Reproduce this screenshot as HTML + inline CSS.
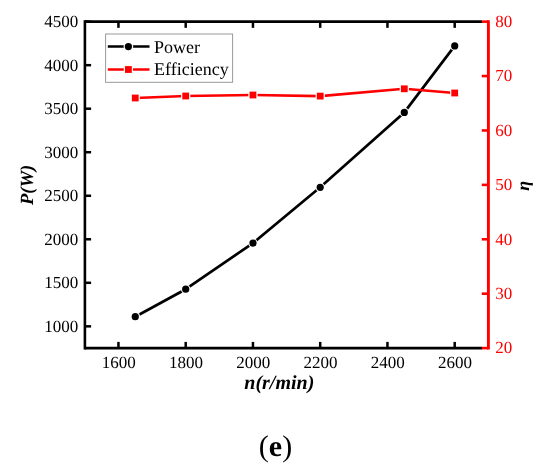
<!DOCTYPE html><html><head><meta charset="utf-8"><style>html,body{margin:0;padding:0;background:#fff;}svg{display:block;text-rendering:geometricPrecision;}</style></head><body>
<svg width="550" height="472" viewBox="0 0 550 472">
<rect width="550" height="472" fill="#fff"/>
<g stroke="#000" stroke-width="2.6" fill="none" stroke-linecap="square">
<line x1="84.9" y1="21.65" x2="84.9" y2="348.1"/>
<line x1="84.9" y1="21.65" x2="482" y2="21.65" stroke-linecap="butt"/>
<line x1="84.9" y1="348.1" x2="482" y2="348.1" stroke-linecap="butt"/>
</g>
<g stroke="#000" stroke-width="2.5" fill="none">
<line x1="84.9" y1="326.34" x2="91.10" y2="326.34"/>
<line x1="84.9" y1="282.81" x2="91.10" y2="282.81"/>
<line x1="84.9" y1="239.28" x2="91.10" y2="239.28"/>
<line x1="84.9" y1="195.76" x2="91.10" y2="195.76"/>
<line x1="84.9" y1="152.23" x2="91.10" y2="152.23"/>
<line x1="84.9" y1="108.70" x2="91.10" y2="108.70"/>
<line x1="84.9" y1="65.18" x2="91.10" y2="65.18"/>
<line x1="84.9" y1="21.65" x2="91.10" y2="21.65"/>
<line x1="118.45" y1="348.1" x2="118.45" y2="341.90"/>
<line x1="118.45" y1="21.65" x2="118.45" y2="27.85"/>
<line x1="185.70" y1="348.1" x2="185.70" y2="341.90"/>
<line x1="185.70" y1="21.65" x2="185.70" y2="27.85"/>
<line x1="252.95" y1="348.1" x2="252.95" y2="341.90"/>
<line x1="252.95" y1="21.65" x2="252.95" y2="27.85"/>
<line x1="320.20" y1="348.1" x2="320.20" y2="341.90"/>
<line x1="320.20" y1="21.65" x2="320.20" y2="27.85"/>
<line x1="387.45" y1="348.1" x2="387.45" y2="341.90"/>
<line x1="387.45" y1="21.65" x2="387.45" y2="27.85"/>
<line x1="454.70" y1="348.1" x2="454.70" y2="341.90"/>
<line x1="454.70" y1="21.65" x2="454.70" y2="27.85"/>
</g>
<g stroke="#f00" stroke-width="2.6" fill="none">
<line x1="488.4" y1="20.349999999999998" x2="488.4" y2="349.40000000000003" stroke-width="2.9"/>
<line x1="488.4" y1="348.10" x2="481.75" y2="348.10"/>
<line x1="488.4" y1="293.69" x2="481.75" y2="293.69"/>
<line x1="488.4" y1="239.28" x2="481.75" y2="239.28"/>
<line x1="488.4" y1="184.88" x2="481.75" y2="184.88"/>
<line x1="488.4" y1="130.47" x2="481.75" y2="130.47"/>
<line x1="488.4" y1="76.06" x2="481.75" y2="76.06"/>
<line x1="488.4" y1="21.65" x2="481.75" y2="21.65"/>
</g>
<g font-family='"Liberation Serif", "Times New Roman", serif' font-size="17" fill="#000">
<text x="78.3" y="331.94" text-anchor="end">1000</text>
<text x="78.3" y="288.41" text-anchor="end">1500</text>
<text x="78.3" y="244.88" text-anchor="end">2000</text>
<text x="78.3" y="201.36" text-anchor="end">2500</text>
<text x="78.3" y="157.83" text-anchor="end">3000</text>
<text x="78.3" y="114.30" text-anchor="end">3500</text>
<text x="78.3" y="70.78" text-anchor="end">4000</text>
<text x="78.3" y="27.25" text-anchor="end">4500</text>
<text x="118.85" y="368.2" text-anchor="middle">1600</text>
<text x="186.10" y="368.2" text-anchor="middle">1800</text>
<text x="253.35" y="368.2" text-anchor="middle">2000</text>
<text x="320.60" y="368.2" text-anchor="middle">2200</text>
<text x="387.85" y="368.2" text-anchor="middle">2400</text>
<text x="455.10" y="368.2" text-anchor="middle">2600</text>
</g>
<g font-family='"Liberation Serif", "Times New Roman", serif' font-size="17" fill="#f00">
<text x="495.2" y="353.40">20</text>
<text x="495.2" y="298.99">30</text>
<text x="495.2" y="244.58">40</text>
<text x="495.2" y="190.18">50</text>
<text x="495.2" y="135.77">60</text>
<text x="495.2" y="81.36">70</text>
<text x="495.2" y="26.95">80</text>
</g>
<text x="279.3" y="389.2" text-anchor="middle" font-family='"Liberation Serif", "Times New Roman", serif' font-size="20" font-weight="bold" font-style="italic">n(r/min)</text>
<text transform="translate(32.8,184.88) rotate(-90)" text-anchor="middle" font-family='"Liberation Serif", "Times New Roman", serif' font-size="18.6" font-weight="bold" font-style="italic">P(W)</text>
<text transform="translate(529.1,185.88) rotate(-90)" text-anchor="middle" font-family='"Liberation Serif", "Times New Roman", serif' font-size="18" font-weight="bold" font-style="italic">η</text>
<polyline points="135.26,316.70 185.70,289.20 252.95,243.10 320.20,187.30 404.30,112.40 454.70,45.90" fill="none" stroke="#000" stroke-width="2.7" stroke-linejoin="round"/>
<circle cx="135.26" cy="316.70" r="4.80" fill="#fff"/>
<circle cx="185.70" cy="289.20" r="4.80" fill="#fff"/>
<circle cx="252.95" cy="243.10" r="4.80" fill="#fff"/>
<circle cx="320.20" cy="187.30" r="4.80" fill="#fff"/>
<circle cx="404.30" cy="112.40" r="4.80" fill="#fff"/>
<circle cx="454.70" cy="45.90" r="4.80" fill="#fff"/>
<circle cx="135.26" cy="316.70" r="3.6" fill="#000"/>
<circle cx="185.70" cy="289.20" r="3.6" fill="#000"/>
<circle cx="252.95" cy="243.10" r="3.6" fill="#000"/>
<circle cx="320.20" cy="187.30" r="3.6" fill="#000"/>
<circle cx="404.30" cy="112.40" r="3.6" fill="#000"/>
<circle cx="454.70" cy="45.90" r="3.6" fill="#000"/>
<polyline points="135.26,98.00 185.70,96.00 252.95,95.00 320.20,96.10 404.30,88.80 454.70,93.00" fill="none" stroke="#f00" stroke-width="2.6" stroke-linejoin="round"/>
<rect x="130.66" y="93.40" width="9.20" height="9.20" fill="#fff"/>
<rect x="181.10" y="91.40" width="9.20" height="9.20" fill="#fff"/>
<rect x="248.35" y="90.40" width="9.20" height="9.20" fill="#fff"/>
<rect x="315.60" y="91.50" width="9.20" height="9.20" fill="#fff"/>
<rect x="399.70" y="84.20" width="9.20" height="9.20" fill="#fff"/>
<rect x="450.10" y="88.40" width="9.20" height="9.20" fill="#fff"/>
<rect x="131.86" y="94.60" width="6.8" height="6.8" fill="#f00"/>
<rect x="182.30" y="92.60" width="6.8" height="6.8" fill="#f00"/>
<rect x="249.55" y="91.60" width="6.8" height="6.8" fill="#f00"/>
<rect x="316.80" y="92.70" width="6.8" height="6.8" fill="#f00"/>
<rect x="400.90" y="85.40" width="6.8" height="6.8" fill="#f00"/>
<rect x="451.30" y="89.60" width="6.8" height="6.8" fill="#f00"/>
<rect x="105.6" y="34.0" width="127" height="48.3" fill="#fff" stroke="#999" stroke-width="1"/>
<line x1="107.8" y1="46.6" x2="149.5" y2="46.6" stroke="#000" stroke-width="2.5"/>
<circle cx="128.4" cy="46.6" r="4.80" fill="#fff"/><circle cx="128.4" cy="46.6" r="3.6" fill="#000"/>
<line x1="107.8" y1="69.5" x2="149.5" y2="69.5" stroke="#f00" stroke-width="2.5"/>
<rect x="123.80" y="64.90" width="9.20" height="9.20" fill="#fff"/><rect x="125.00" y="66.10" width="6.8" height="6.8" fill="#f00"/>
<text x="154.1" y="53" font-family='"Liberation Serif", "Times New Roman", serif' font-size="18">Power</text>
<text x="154.1" y="75.1" font-family='"Liberation Serif", "Times New Roman", serif' font-size="18">Efficiency</text>
<text x="275.5" y="455.5" text-anchor="middle" font-family='"Liberation Serif", "Times New Roman", serif' font-size="30">(<tspan font-weight="bold">e</tspan>)</text>
</svg></body></html>
